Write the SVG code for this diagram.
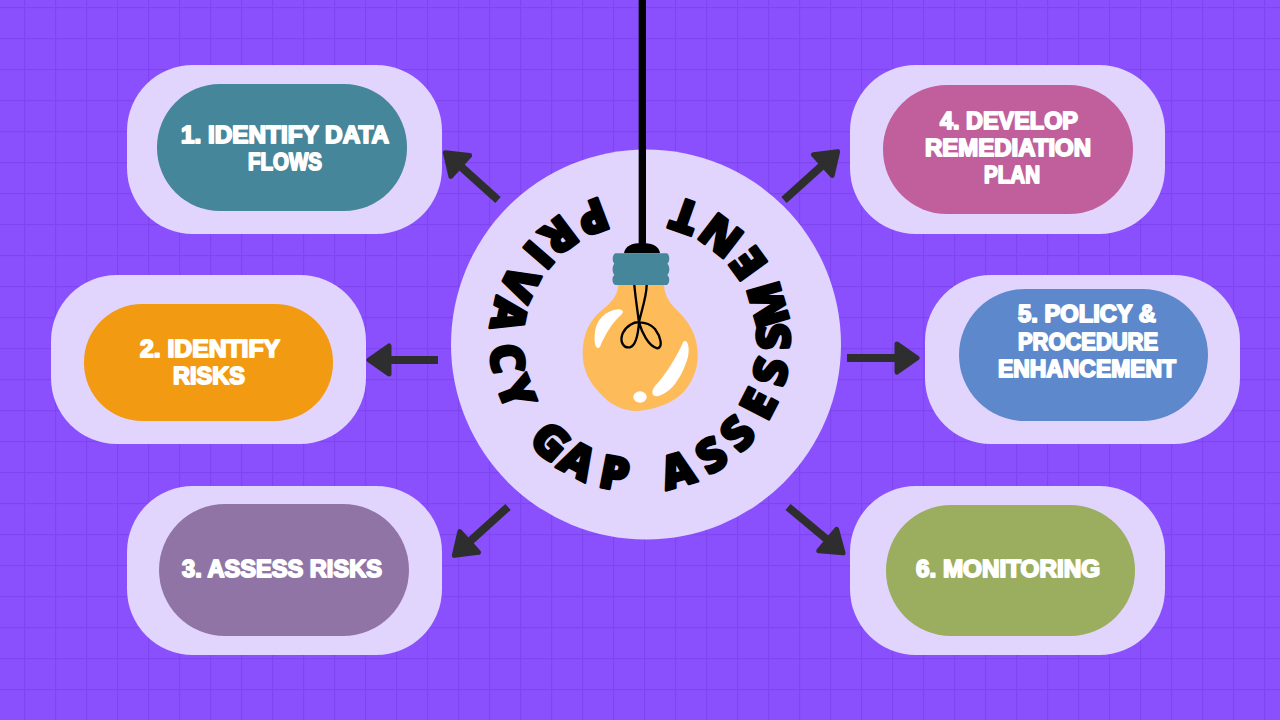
<svg xmlns="http://www.w3.org/2000/svg" width="1280" height="720" viewBox="0 0 1280 720">
<style>
.card{fill:#e1d5fd}
.lbl{font-family:"Liberation Sans",sans-serif;font-weight:700;font-size:23.4px;fill:#fff;stroke:#fff;stroke-width:1.8;stroke-linejoin:round;text-anchor:middle}
.ring{font-family:"Open Sans","Liberation Sans",sans-serif;font-weight:800;font-size:46px;fill:#000;stroke:#000;stroke-width:2.6;stroke-linejoin:round}
.arrow{fill:none;stroke:#2e2e2e;stroke-width:8}
</style>
<defs>
<pattern id="grid" width="31" height="31" patternUnits="userSpaceOnUse" x="-7" y="-24">
<path d="M31 0H0V31" fill="none" stroke="#7f46ef" stroke-width="2.4"/>
</pattern>
<marker id="ah" viewBox="0 0 30 38" refX="9" refY="19" markerUnits="userSpaceOnUse" markerWidth="30" markerHeight="38" orient="auto">
<path d="M6 5L26 19L6 33Z" fill="#2e2e2e" stroke="#2e2e2e" stroke-width="5" stroke-linejoin="round"/>
</marker>
</defs>
<rect width="1280" height="720" fill="#8b50fe"/>
<rect width="1280" height="720" fill="url(#grid)"/>
<g id="connectors">
<path class="arrow" marker-end="url(#ah)" d="M498 200L458 164"/>
<path class="arrow" marker-end="url(#ah)" d="M438 360H386"/>
<path class="arrow" marker-end="url(#ah)" d="M508 507L467 544"/>
<path class="arrow" marker-end="url(#ah)" d="M784 200L825 163"/>
<path class="arrow" marker-end="url(#ah)" d="M847 358H900"/>
<path class="arrow" marker-end="url(#ah)" d="M788 507L830 542"/>
</g>
<g id="node1"><rect class="card" x="127" y="65" width="315" height="169" rx="66"/><rect x="157" y="84" width="250" height="127" rx="63" fill="#45869a"/>
<text class="lbl" x="285" y="143" textLength="208" lengthAdjust="spacingAndGlyphs">1. IDENTIFY DATA</text><text class="lbl" x="285" y="170" textLength="74" lengthAdjust="spacingAndGlyphs">FLOWS</text></g>
<g id="node2"><rect class="card" x="51" y="275" width="315" height="169" rx="66"/><rect x="84" y="304" width="249" height="117" rx="58" fill="#f29a12"/>
<text class="lbl" x="210" y="357" textLength="140" lengthAdjust="spacingAndGlyphs">2. IDENTIFY</text><text class="lbl" x="209" y="384" textLength="72" lengthAdjust="spacingAndGlyphs">RISKS</text></g>
<g id="node3"><rect class="card" x="127" y="486" width="315" height="169" rx="66"/><rect x="159" y="504" width="250" height="132" rx="66" fill="#9174a6"/>
<text class="lbl" x="282" y="577" textLength="200" lengthAdjust="spacingAndGlyphs">3. ASSESS RISKS</text></g>
<g id="node4"><rect class="card" x="850" y="65" width="315" height="169" rx="66"/><rect x="883" y="85" width="250" height="129" rx="64" fill="#c05f9c"/>
<text class="lbl" x="1009" y="129" textLength="138" lengthAdjust="spacingAndGlyphs">4. DEVELOP</text><text class="lbl" x="1008" y="156" textLength="166" lengthAdjust="spacingAndGlyphs">REMEDIATION</text><text class="lbl" x="1012" y="183" textLength="56" lengthAdjust="spacingAndGlyphs">PLAN</text></g>
<g id="node5"><rect class="card" x="925" y="275" width="315" height="169" rx="66"/><rect x="959" y="289" width="249" height="132" rx="66" fill="#5d88cb"/>
<text class="lbl" x="1087" y="322" textLength="138" lengthAdjust="spacingAndGlyphs">5. POLICY &amp;</text><text class="lbl" x="1088" y="350" textLength="140" lengthAdjust="spacingAndGlyphs">PROCEDURE</text><text class="lbl" x="1087" y="377" textLength="178" lengthAdjust="spacingAndGlyphs">ENHANCEMENT</text></g>
<g id="node6"><rect class="card" x="850" y="486" width="315" height="169" rx="66"/><rect x="886" y="505" width="249" height="131" rx="65" fill="#9bad5f"/>
<text class="lbl" x="1008" y="577" textLength="184" lengthAdjust="spacingAndGlyphs">6. MONITORING</text></g>
<g id="center">
<circle class="card" cx="646" cy="344.5" r="195"/>
<text class="ring" x="600.5 561.8 531.8 512.2 496.6 489.3 495.4 517 527.1 555.6 597.2 635 666.1 708.8 740.3 767.3 783.4 790.3 790.1 769 746.1 702.9" y="196.6 213 237.9 261.9 295.3 345.7 384.2 428 442.3 467 486.5 492 490.5 475.9 454.2 422.5 388.1 349.5 321.5 264.2 234.3 205.2" rotate="159.3 143 131 116.4 102 83 68.5 55 42 28 11 -2 -16 -32 -46.6 -62.6 -77 -92 -106 -126 -142.5 -160.4">PRIVACY GAP ASSESSMENT</text>
<g transform="translate(450 150) scale(.33333)">
<path d="M566 -450H588V282H566Z" fill="#000"/>
<path d="M522 310C525 288 545 279 577 279C610 279 628 290 630 310Z" fill="#000"/>
<path d="M505 400C505 440 480 462 450 485C415 515 398 560 398 610C398 660 420 700 450 730C480 765 520 783 560 783C620 780 680 755 710 715C735 680 744 650 743 610C742 560 720 520 690 490C660 460 642 440 642 400Z" fill="#fdbb5a"/>
<path d="M497 310H650C660 312 660 335 652 341C660 348 660 368 652 375C660 382 660 400 650 405H497C486 403 484 382 493 375C486 368 486 348 493 341C486 335 486 312 497 310Z" fill="#45869a"/>
<path d="M553 405C556 440 562 480 567 517C555 515 530 525 518 550C508 575 520 595 540 592C560 585 565 545 567 517C575 545 595 590 622 595C640 592 632 560 615 537C600 520 585 517 567 517C572 490 590 440 590 405" fill="none" stroke="#000" stroke-width="7" stroke-linejoin="round"/>
<path d="M435 545C440 510 465 482 505 478C525 480 520 490 510 498C485 520 465 555 450 590C440 602 430 585 435 545Z" fill="#fff"/>
<path d="M700 575C712 565 720 590 714 620C700 670 670 725 625 738C605 742 602 725 615 708C650 670 680 620 700 575Z" fill="#fff"/>
<ellipse cx="570" cy="741" rx="20" ry="17" fill="#fff"/>
</g>
</g>
</svg>
